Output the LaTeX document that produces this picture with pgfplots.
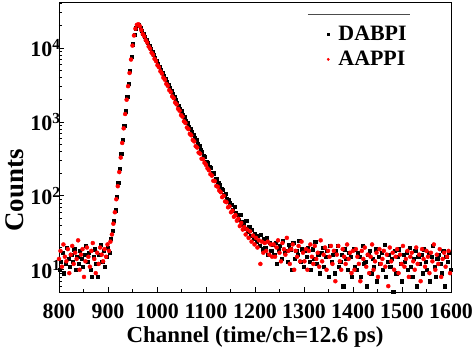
\documentclass[border=0pt]{standalone}
\usepackage{fontspec}
\setmainfont{Liberation Serif}
\usepackage{pgfplots}
\pgfplotsset{compat=1.18}
\begin{document}
\begin{tikzpicture}
\begin{axis}[
  scale only axis, width=392bp, height=290bp,
  xmin=800, xmax=1600, ymin=5, ymax=42000, ymode=log,
  xtick={800,900,...,1600}, minor x tick num=1,
  ytick={10,100,1000,10000},
  yticklabels={10\textsuperscript{1},10\textsuperscript{2},10\textsuperscript{3},10\textsuperscript{4}},
  minor ytick={5,6,7,8,9,20,30,40,50,60,70,80,90,200,300,400,500,600,700,800,900,2000,3000,4000,5000,6000,7000,8000,9000,20000,30000,40000},
  tick align=inside, xtick pos=bottom, ytick pos=left,
  major tick length=5bp, minor tick length=3bp,
  tick style={black, line width=0.8pt},
  axis line style={line width=1pt},
  /pgf/number format/assume math mode=true,
  /pgf/number format/1000 sep={},
  ticklabel style={font=\fontsize{22}{24}\selectfont\bfseries},
  xticklabel style={yshift=-8bp},
  yticklabel style={xshift=5bp},
  xlabel style={font=\fontsize{23}{26}\selectfont\bfseries, yshift=-1bp},
  ylabel style={font=\fontsize{27}{30}\selectfont\bfseries, at={(ticklabel cs:0.35)}},
  xlabel={Channel (time/ch=12.6 ps)},
  ylabel={Counts},
  legend style={at={(rel axis cs:0.9,0.93)}, anchor=north east, draw=none, fill=none,
    font=\fontsize{22}{24}\selectfont\bfseries, row sep=5bp},
  legend cell align=left,
  legend image code/.code={\draw[#1, mark size=1.2bp] plot coordinates {(0cm,0cm)};},
]
\addplot[only marks, mark=square*, mark size=1.6bp, black] coordinates {
(801,10)(804,13)(807,17)(810,9)(813,12)(816,20)(819,14)(822,11)(825,16)(828,13)(831,19)(834,10)(837,15)(840,12)(843,18)(846,14)(849,11)(852,16)(855,21)(858,13)(861,17)(864,10)(867,8)(870,15)(873,19)(876,12)(879,8)(882,16)(885,22)(888,13)(891,18)(894,11)(897,15)(900,20)(903,17)(906,26)
(909,34)(912,46)(915,64)(918,98)(921,150)(924,235)(927,370)(930,580)(933,900)(936,1400)(939,2200)(942,3300)(945,5000)(948,7600)(951,11300)(954,15200)(957,18600)(960,20300)(963,20600)
(966,18900)(969,17000)(972,15700)(975,14100)(978,13000)(981,11700)(984,10800)(987,9700)(990,8950)(993,8050)(996,7430)(999,6690)(1002,6170)(1005,5550)(1008,5120)(1011,4600)(1014,4250)(1017,3820)(1020,3530)(1023,3170)(1026,2930)(1029,2630)(1032,2430)(1035,2180)(1038,2020)(1041,1810)(1044,1680)(1047,1500)(1050,1395)(1053,1245)(1056,1160)(1059,1035)(1062,968)(1065,870)(1068,815)(1071,725)(1074,680)(1077,605)(1080,570)(1083,500)(1086,475)(1089,420)(1092,398)(1095,350)(1098,335)(1101,290)(1104,282)(1107,245)(1110,238)(1113,205)(1116,202)(1119,172)(1122,170)(1125,152)(1128,141)(1131,126)(1134,122)(1137,104)(1140,108)(1143,92)(1146,89)(1149,80)(1152,76)(1155,64)(1158,72)(1161,59)(1164,56)(1167,48)(1170,56)(1173,44)(1176,41)(1179,36)(1182,46)(1185,33)(1188,38)(1191,29)(1194,35)(1197,26)(1200,31)(1203,24)(1206,29)(1209,21)(1212,30)(1215,19)(1218,26)(1221,20)(1224,27)(1227,16)(1230,23)(1233,18)(1236,22)
(1239,16)(1242,23)(1245,12)(1248,19)(1251,21)(1254,14)(1257,25)(1260,17)(1263,18)(1266,13)(1269,22)(1272,19)(1275,10)(1278,23)(1281,14)(1284,18)(1287,16)(1290,25)(1293,13)(1296,19)(1299,11)(1302,18)(1305,15)(1308,20)(1311,13)(1314,10)(1317,19)(1320,14)(1323,24)(1326,12)(1329,16)(1332,9)(1335,17)(1338,20)(1341,11)(1344,15)(1347,18)(1350,8)(1353,21)(1356,13)(1359,16)(1362,9)(1365,18)(1368,21)(1371,11)(1374,13)(1377,16)(1380,6)(1383,19)(1386,14)(1389,10)(1392,17)(1395,15)(1398,8)(1401,19)(1404,11)(1407,10)(1410,17)(1413,15)(1416,8)(1419,21)(1422,12)(1425,13)(1428,6)(1431,16)(1434,18)(1437,9)(1440,14)(1443,11)(1446,19)(1449,7)(1452,15)(1455,12)(1458,17)(1461,10)(1464,22)(1467,8)(1470,13)(1473,16)(1476,11)(1479,14)(1482,5)(1485,18)(1488,9)(1491,15)(1494,19)(1497,12)(1500,7)(1503,16)(1506,13)(1509,17)(1512,10)(1515,20)(1518,11)(1521,8)(1524,14)(1527,18)(1530,6)(1533,15)(1536,12)(1539,16)(1542,9)(1545,19)(1548,13)(1551,10)(1554,17)(1557,7)(1560,15)(1563,21)(1566,11)(1569,8)(1572,14)(1575,16)(1578,12)(1581,9)(1584,18)(1587,6)(1590,15)(1593,13)(1596,17)(1599,10)
};
\addlegendentry{\hspace{7bp}DABPI}
\addplot[only marks, mark=*, mark size=2bp, red, mark options={draw=red, fill=red}] coordinates {
(800,14)(803,18)(806,11)(809,22)(812,15)(815,13)(818,19)(821,9)(824,16)(827,21)(830,12)(833,17)(836,14)(839,25)(842,10)(845,16)(848,19)(851,8)(854,13)(857,20)(860,15)(863,11)(866,18)(869,23)(872,14)(875,9)(878,17)(881,12)(884,20)(887,16)(890,13)(893,19)(896,15)(899,22)(902,18)(905,24)
(908,30)(911,42)(914,60)(917,90)(920,135)(923,210)(926,330)(929,520)(932,820)(935,1280)(938,2000)(941,3050)(944,4600)(947,7000)(950,10800)(953,14800)(956,18300)(959,20600)(962,21000)
(965,19800)(968,17500)(971,15500)(974,14400)(977,12800)(980,11900)(983,10500)(986,9800)(989,8650)(992,8100)(995,7150)(998,6650)(1001,5850)(1004,5500)(1007,4850)(1010,4520)(1013,3980)(1016,3730)(1019,3280)(1022,3080)(1025,2700)(1028,2540)(1031,2220)(1034,2100)(1037,1830)(1040,1730)(1043,1510)(1046,1420)(1049,1240)(1052,1180)(1055,1020)(1058,970)(1061,840)(1064,800)(1067,690)(1070,660)(1073,570)(1076,545)(1079,470)(1082,450)(1085,385)(1088,372)(1091,318)(1094,313)(1097,280)(1100,262)(1103,236)(1106,222)(1109,196)(1112,188)(1115,160)(1118,158)(1121,136)(1124,133)(1127,118)(1130,112)(1133,96)(1136,100)(1139,84)(1142,82)(1145,70)(1148,72)(1151,60)(1154,63)(1157,52)(1160,55)(1163,46)(1166,49)(1169,39)(1172,43)(1175,35)(1178,38)(1181,30)(1184,35)(1187,27)(1190,33)(1193,24)(1196,29)(1199,22)(1202,27)(1205,20)(1208,25)(1211,12)(1214,24)(1217,17)(1220,23)(1223,18)(1226,24)(1229,16)(1232,22)(1235,15)
(1238,22)(1241,15)(1244,20)(1247,25)(1250,17)(1253,13)(1256,23)(1259,19)(1262,16)(1265,27)(1268,18)(1271,12)(1274,19)(1277,22)(1280,10)(1283,18)(1286,15)(1289,21)(1292,13)(1295,24)(1298,17)(1301,13)(1304,19)(1307,10)(1310,18)(1313,22)(1316,15)(1319,12)(1322,21)(1325,14)(1328,17)(1331,11)(1334,25)(1337,13)(1340,16)(1343,20)(1346,10)(1349,18)(1352,15)(1355,21)(1358,12)(1361,18)(1364,7)(1367,16)(1370,21)(1373,13)(1376,10)(1379,19)(1382,15)(1385,12)(1388,22)(1391,14)(1394,17)(1397,9)(1400,18)(1403,10)(1406,19)(1409,15)(1412,12)(1415,7)(1418,18)(1421,14)(1424,20)(1427,11)(1430,16)(1433,9)(1436,15)(1439,22)(1442,10)(1445,13)(1448,17)(1451,8)(1454,19)(1457,12)(1460,14)(1463,18)(1466,11)(1469,16)(1472,6)(1475,20)(1478,13)(1481,17)(1484,10)(1487,15)(1490,19)(1493,9)(1496,16)(1499,12)(1502,21)(1505,11)(1508,14)(1511,18)(1514,8)(1517,15)(1520,17)(1523,13)(1526,10)(1529,20)(1532,12)(1535,16)(1538,7)(1541,19)(1544,14)(1547,11)(1550,18)(1553,15)(1556,9)(1559,17)(1562,13)(1565,22)(1568,10)(1571,16)(1574,12)(1577,19)(1580,8)(1583,14)(1586,17)(1589,11)(1592,15)(1595,18)(1598,9)
};
\addlegendentry{\hspace{7bp}AAPPI}
\draw[black!70, line width=0.8pt] (rel axis cs:0.635,0.957) -- (rel axis cs:0.895,0.957);
\end{axis}
\pgfresetboundingbox
\path ([shift={(-59bp,-60bp)}]current axis.south west) rectangle ([shift={(23bp,2bp)}]current axis.north east);
\end{tikzpicture}
\end{document}
